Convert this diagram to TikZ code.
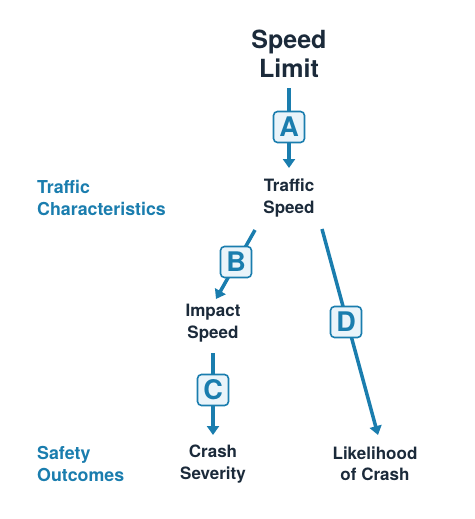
\documentclass[tikz,border=0pt]{standalone}
\usepackage{fontspec}
\setmainfont{TeX Gyre Heros}
\usetikzlibrary{arrows.meta}
\definecolor{navy}{HTML}{1B2A3A}
\definecolor{tblue}{HTML}{1A7DAE}
\definecolor{boxfill}{HTML}{EAF4FA}
\begin{document}
\begin{tikzpicture}[x=1pt,y=-1pt,
  lbl/.style={font=\bfseries\fontsize{17}{21.5}\selectfont, text=navy, align=center, inner sep=0pt},
  side/.style={font=\bfseries\fontsize{17.8}{22}\selectfont, text=tblue, align=left, anchor=west, inner sep=0pt},
  letterbox/.style={draw=tblue, line width=1.6pt, fill=boxfill, rounded corners=4pt, minimum width=31pt, minimum height=31pt, inner sep=0pt, font=\bfseries\fontsize{27}{27}\selectfont, text=tblue},
  conn/.style={draw=tblue, line width=3.5pt, -{Triangle[length=9pt,width=12pt]}}
]
\useasboundingbox (0,0) rectangle (474,519);
\node[lbl, font=\bfseries\fontsize{25}{29}\selectfont] (sl) at (289,54) {Speed\\Limit};
\node[lbl] (ts) at (289,198) {Traffic\\Speed};
\node[lbl] (is) at (213,323) {Impact\\Speed};
\node[lbl] (cs) at (213,464) {Crash\\Severity};
\node[lbl] (lc) at (375,464) {Likelihood\\of Crash};
\node[side] (tc) at (37,198) {Traffic\\Characteristics};
\node[side] (so) at (37,464) {Safety\\Outcomes};
\coordinate (a0) at (289,88);  \coordinate (a1) at (289,168);
\coordinate (b0) at (255,230); \coordinate (b1) at (216,299);
\coordinate (c0) at (213,353); \coordinate (c1) at (213,435);
\coordinate (d0) at (322,229); \coordinate (d1) at (378,435);
\draw[conn] (a0) -- (a1);
\draw[conn] (b0) -- (b1);
\draw[conn] (c0) -- (c1);
\draw[conn] (d0) -- (d1);
\node[letterbox] (A) at (289,127) {A};
\node[letterbox] (B) at (236,262) {B};
\node[letterbox] (C) at (213,390) {C};
\node[letterbox] (D) at (346,322) {D};
\end{tikzpicture}
\end{document}
